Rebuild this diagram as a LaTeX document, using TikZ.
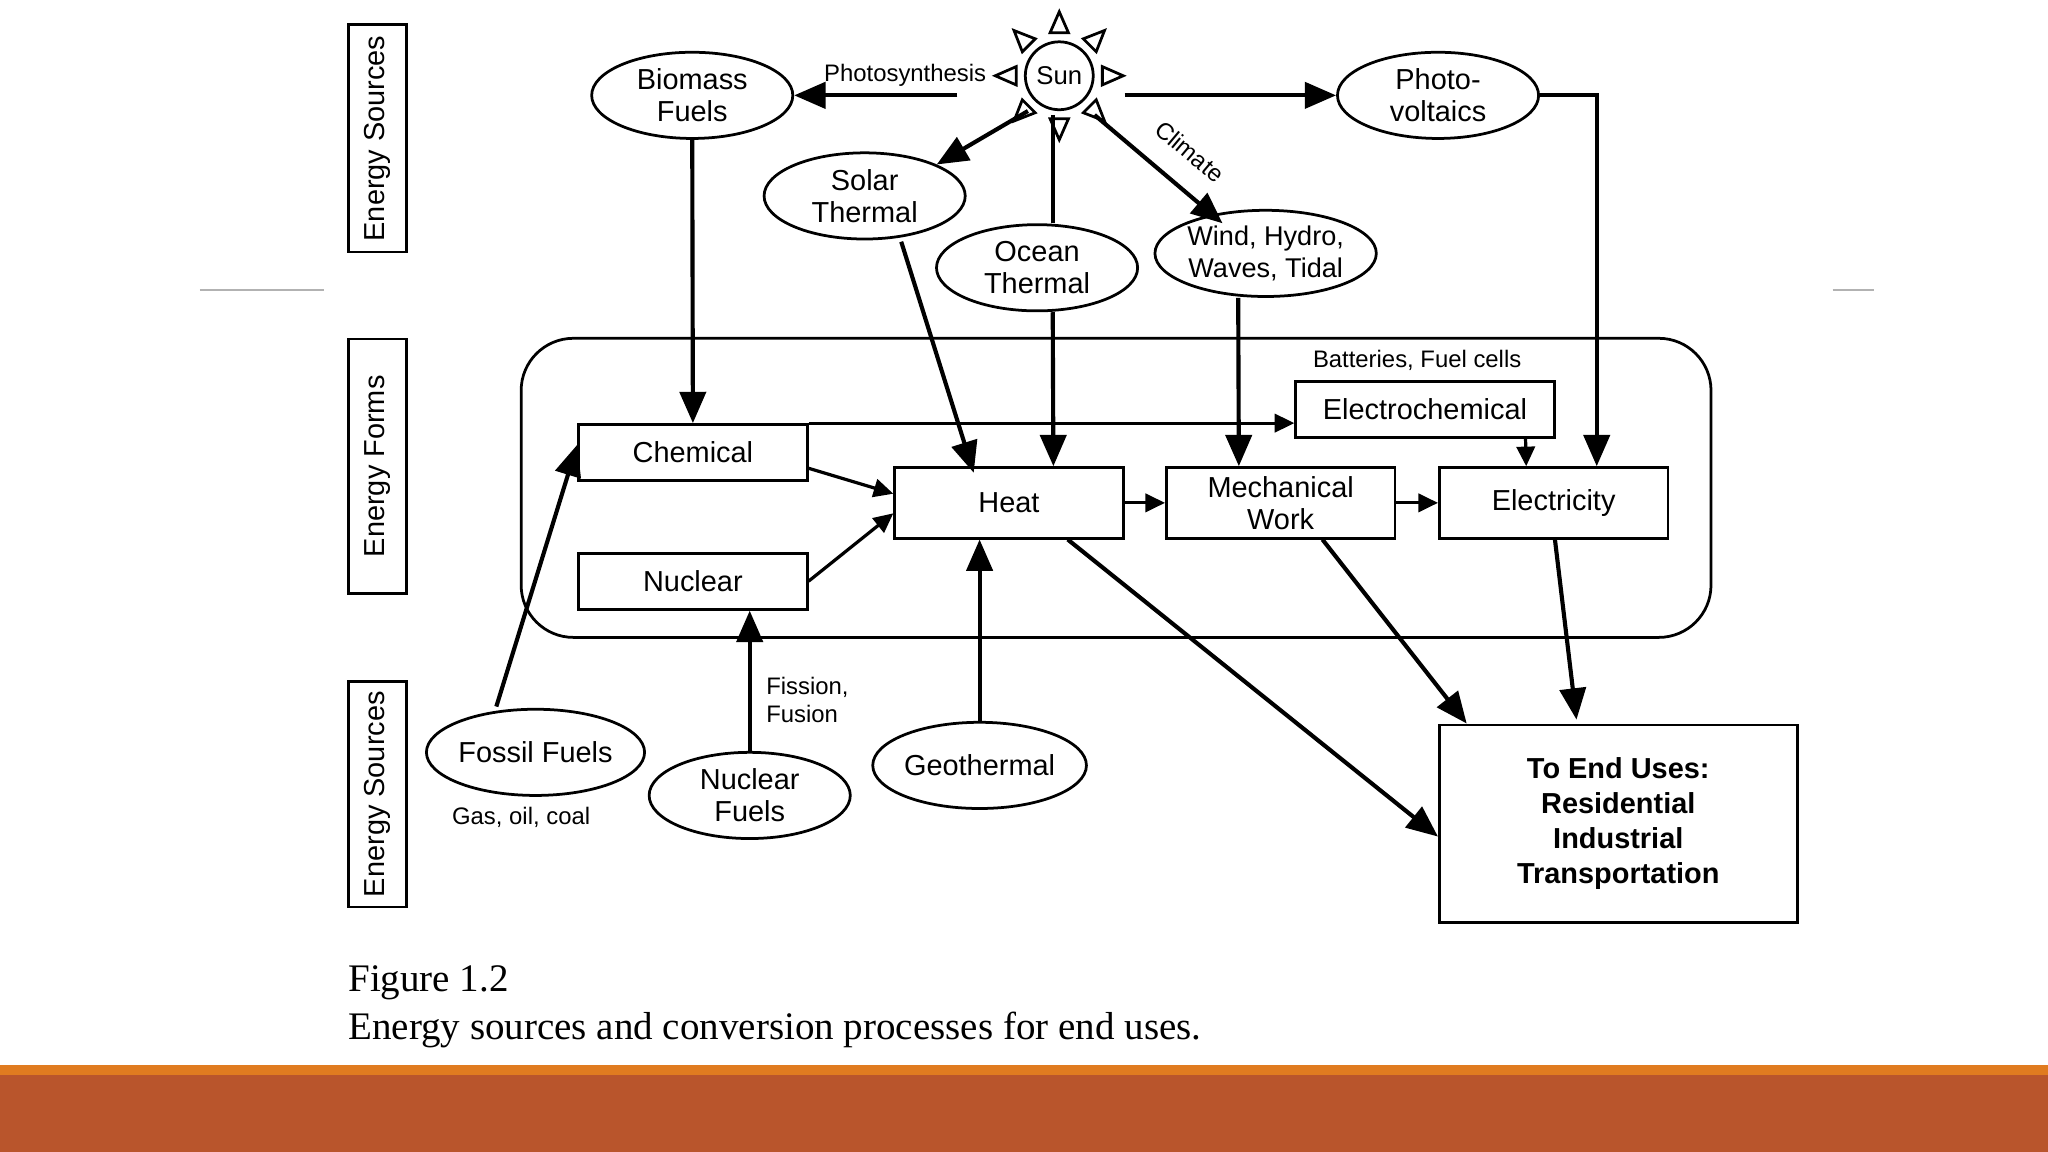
\documentclass[tikz,border=0pt]{standalone}
\usepackage{fontspec}
\setmainfont{Liberation Sans}
\newfontfamily\capfont{Liberation Serif}
\usetikzlibrary{arrows.meta,shapes.geometric,calc}
\definecolor{orng}{HTML}{E07B20}
\definecolor{rust}{HTML}{B9552C}
\begin{document}
\begin{tikzpicture}[x=0.1mm,y=-0.1mm,
  el/.style={draw,ellipse,line width=0.6pt,minimum width=15.4mm,minimum height=6.6mm,inner sep=0pt,align=center,font=\fontsize{6.3}{7}\selectfont},
  bx/.style={draw,line width=0.6pt,minimum width=17.5mm,minimum height=4.3mm,inner sep=0pt,align=center,font=\fontsize{6.3}{7}\selectfont},
  side/.style={draw,line width=0.6pt,minimum height=4.4mm,inner sep=0pt,font=\fontsize{6.3}{7}\selectfont,rotate=90},
  ar/.style={line width=0.9pt,-{Triangle[length=2.4mm,width=2mm]}},
  tar/.style={line width=0.7pt,-{Triangle[length=1.5mm,width=1.4mm]}},
  lbl/.style={font=\fontsize{5.2}{6}\selectfont,inner sep=0pt,align=left}]
\useasboundingbox (0,0) rectangle (1568,882);
\fill[white] (0,0) rectangle (1568,882);
\fill[orng] (0,815) rectangle (1568,823);
\fill[rust] (0,823) rectangle (1568,882);
\draw[gray!60,line width=0.3pt] (153,222)--(248,222) (1403,222)--(1435,222);
% side labels
\node[side,minimum width=17.4mm] (s1) at (289,106) {Energy Sources};
\node[side,minimum width=19.5mm] (s2) at (289,357) {Energy Forms};
\node[side,minimum width=17.3mm] (s3) at (289,608) {Energy Sources};
% forms frame
\node[draw,line width=0.6pt,rounded corners=4mm,minimum width=91.1mm,minimum height=22.9mm,inner sep=0pt] (frame) at (854.5,373.5) {};
% sun
\node[draw,circle,line width=0.6pt,minimum size=5.2mm,inner sep=0pt,font=\fontsize{5.6}{6}\selectfont] (sun) at (811,58) {Sun};
\foreach \a in {0,45,...,315}{
  \draw[line width=0.6pt] ($(sun.center)+(\a:33)+(\a+90:7)$) -- ($(sun.center)+(\a:49)$) -- ($(sun.center)+(\a:33)+(\a-90:7)$) -- cycle;}
% ellipses
\node[el] (bio) at (530,73) {Biomass\\Fuels};
\node[el] (pv) at (1101,73) {Photo-\\voltaics};
\node[el] (st) at (662,150) {Solar\\Thermal};
\node[el] (ot) at (794,205) {Ocean\\Thermal};
\node[el,font=\fontsize{5.9}{7}\selectfont] (wind) at (969,194) {Wind, Hydro,\\Waves, Tidal};
\node[el] (ff) at (410,576) {Fossil Fuels};
\node[el] (nf) at (574,609) {Nuclear\\Fuels};
\node[el] (geo) at (750,586) {Geothermal};
% boxes
\node[bx] (chem) at (530.5,346.5) {Chemical};
\node[bx] (nuc) at (530.5,445) {Nuclear};
\node[bx,minimum height=5.4mm] (heat) at (772.5,385) {Heat};
\node[bx,minimum height=5.4mm] (mech) at (980.5,385) {Mechanical\\Work};
\node[bx,minimum height=5.4mm] (elec) at (1189.5,385) {Electricity};
\node[bx,minimum width=19.8mm] (ec) at (1091,313.5) {Electrochemical};
\node[draw,line width=0.6pt,minimum width=27.4mm,minimum height=15.1mm,inner sep=0pt,align=center,font=\bfseries\fontsize{6.3}{7.6}\selectfont] (end) at (1239,630.5) {To End Uses:\\Residential\\Industrial\\Transportation};
% labels
\node[lbl] (lphot) at (693,58) {Photosynthesis};
\node[lbl,rotate=-40] (lclim) at (911,116) {Climate};
\node[lbl] (lbat) at (1085,276) {Batteries, Fuel cells};
\node[lbl] (lgas) at (399,626) {Gas, oil, coal};
\node[lbl,anchor=west] (lfis) at (586,536) {Fission,\\Fusion};
% arrows
\draw[ar] (sun.west |- bio.east) ++(-51,0) -- (bio.east);
\draw[ar] ($(sun.east |- pv.west)+(23,0)$) -- (pv.west);
\draw[ar] ($(sun.center)+(-24,27)$) -- (st.north east);
\draw[line width=0.9pt] ($(sun.center)+(-5,30)$) -- ($(ot.north)+(12,0)$);
\draw[ar] ($(sun.center)+(27,30)$) -- ($(wind.north)+(-33,11)$);
\draw[ar] (bio.south) -- (chem.north);
\draw[ar] ($(st.south)+(28,1)$) -- ($(heat.north)+(-27,5)$);
\draw[ar] ($(ot.south)+(12,0)$) -- ($(heat.north)+(34,0)$);
\draw[ar] ($(wind.south)+(-21,0)$) -- ($(mech.north)+(-32,0)$);
\draw[ar] (pv.east) -| ($(elec.north)+(33,0)$);
\draw[tar] (chem.north east) -- (ec.west |- chem.north east);
\draw[tar] ($(ec.south)+(77,0)$) -- ($(elec.north)+(-21,0)$);
\draw[tar] ($(chem.east)+(0,12)$) -- ($(heat.west)+(0,-7)$);
\draw[tar] ($(nuc.east)+(0,0)$) -- ($(heat.west)+(0,8)$);
\draw[tar] (heat.east) -- (mech.west);
\draw[tar] (mech.east) -- (elec.west);
\draw[ar] ($(heat.south)+(45,0)$) -- ($(end.west)+(0,10)$);
\draw[ar] ($(mech.south)+(32,0)$) -- ($(end.north west)+(22,0)$);
\draw[ar] ($(elec.south)+(1,0)$) -- ($(end.north)+(-32,-3)$);
\draw[ar] ($(ff.north)+(-30,-1)$) -- ($(chem.west)+(0,-6)$);
\draw[ar] (nf.north) -- (nf.north |- nuc.south);
\draw[ar] (geo.north) -- (geo.north |- heat.south);
% caption
\node[anchor=west,inner sep=0pt,align=left,font=\capfont\fontsize{8.5}{10.5}\selectfont] (cap) at (266,771) {Figure 1.2\\Energy sources and conversion processes for end uses.};
\end{tikzpicture}
\end{document}
